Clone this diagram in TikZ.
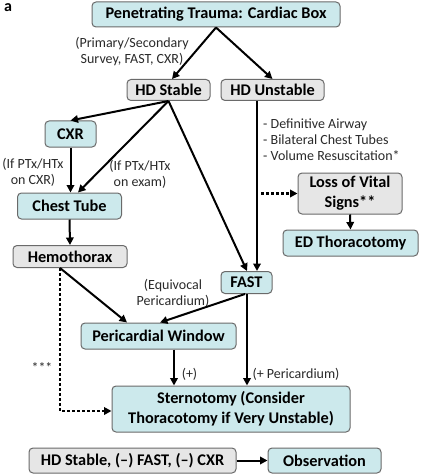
\documentclass[tikz,border=0pt]{standalone}
\usepackage{fontspec}
\setmainfont{Carlito}
\usetikzlibrary{arrows.meta,calc}
\definecolor{boxblue}{HTML}{CCE9EC}
\definecolor{boxgray}{HTML}{E6E6E6}
\definecolor{edgegray}{HTML}{6A6A6A}
\definecolor{labelgray}{HTML}{2A2A2A}
\begin{document}
\begin{tikzpicture}[x=1pt,y=-1pt,
 box/.style={draw=edgegray,line width=1pt,rounded corners=4pt,inner sep=0pt,align=center,font=\fontsize{16.3}{20}\selectfont\bfseries,text=black},
 bbox/.style={box,fill=boxblue},
 gbox/.style={box,fill=boxgray},
 lbl/.style={font=\fontsize{14}{16}\selectfont,text=labelgray,align=center,inner sep=0pt},
 arr/.style={line width=2pt,-{Triangle[length=7.5pt,width=7.5pt]}},
 darr/.style={line width=2.5pt,dash pattern=on 2.5pt off 2.5pt,-{Triangle[length=7.5pt,width=7.5pt]}}]
\useasboundingbox[fill=white] (0,0) rectangle (420,476);
\node[font=\fontsize{16}{18}\selectfont\bfseries,inner sep=0pt] (lbla) at (8,8) {a};
% nodes
\node[bbox,minimum width=248pt,minimum height=25pt] (top) at (216,14.5) {Penetrating Trauma: Cardiac Box};
\node[gbox,minimum width=83pt,minimum height=21pt] (hds) at (168.5,90) {HD Stable};
\node[gbox,minimum width=103pt,minimum height=21pt] (hdu) at (272.5,90) {HD Unstable};
\node[bbox,minimum width=51pt,minimum height=26pt] (cxr) at (70.5,134) {CXR};
\node[bbox,minimum width=104pt,minimum height=26pt] (ct) at (69.5,206) {Chest Tube};
\node[gbox,minimum width=114pt,minimum height=22pt] (hemo) at (70,256.5) {Hemothorax};
\node[gbox,minimum width=104pt,minimum height=41pt] (lvs) at (350,193.5) {Loss of Vital\\Signs**};
\node[bbox,minimum width=135pt,minimum height=26pt] (edt) at (350.5,243) {ED Thoracotomy};
\node[bbox,minimum width=51pt,minimum height=22pt] (fast) at (246.5,282.5) {FAST};
\node[bbox,minimum width=155pt,minimum height=26pt] (pw) at (158.5,336) {Pericardial Window};
\node[bbox,minimum width=238pt,minimum height=46pt] (stern) at (231,409) {Sternotomy (Consider\\Thoracotomy if Very Unstable)};
\node[gbox,minimum width=207pt,minimum height=25pt] (neg) at (132.5,460.5) {HD Stable, (–) FAST, (–) CXR};
\node[bbox,minimum width=113pt,minimum height=25pt] (obs) at (324.5,460.5) {Observation};
% labels
\node[lbl] (l1) at (132,52) {(Primary/Secondary\\Survey, FAST, CXR)};
\node[lbl] (l2) at (33,172) {(If PTx/HTx\\on CXR)};
\node[lbl] (l3) at (140,174) {(If PTx/HTx\\on exam)};
\node[lbl,align=left,anchor=west] (l4) at (263,140) {- Definitive Airway\\- Bilateral Chest Tubes\\- Volume Resuscitation*};
\node[lbl] (l5) at (173,293) {(Equivocal\\Pericardium)};
\node[lbl] (l6) at (42,368) {***};
\node[lbl] (l7) at (189.5,374) {(+)};
\node[lbl] (l8) at (296,374) {(+ Pericardium)};
% edges
\draw[arr] (top.south) -- ([xshift=3.5pt]hds.north);
\draw[arr] (top.south) -- (hdu.north);
\draw[arr] (hds.south) -- (cxr.north);
\draw[arr] (hds.south) -- ([xshift=8.5pt]ct.north);
\draw[arr] (hds.south) -- ([xshift=0.5pt]fast.north);
\draw[arr] (cxr.south) -- (cxr.south |- ct.north);
\draw[arr] ([xshift=-15.5pt]hdu.south) -- ([xshift=-15.5pt]hdu.south |- fast.north);
\coordinate (tap) at ([xshift=-15.5pt]hdu.south |- lvs.west);
\draw[darr] ([xshift=4pt]tap) -- (lvs.west);
\draw[arr] (lvs.south) -- (edt.north);
\draw[arr] (ct.south) -- (hemo.north);
\draw[arr] ([xshift=-10pt]hemo.south) -- ([xshift=-31.5pt]pw.north);
\draw[darr] ([xshift=-10pt]hemo.south) |- ([yshift=-2pt]stern.west);
\draw[arr] ([xshift=-1.5pt]fast.south) -- ([xshift=1.5pt]pw.north);
\draw[arr] ([xshift=0.5pt]fast.south) -- ([xshift=0.5pt]fast.south |- stern.north);
\draw[arr] ([xshift=15.5pt]pw.south) -- ([xshift=15.5pt]pw.south |- stern.north);
\draw[arr] (neg.east) -- (obs.west);
\end{tikzpicture}
\end{document}
